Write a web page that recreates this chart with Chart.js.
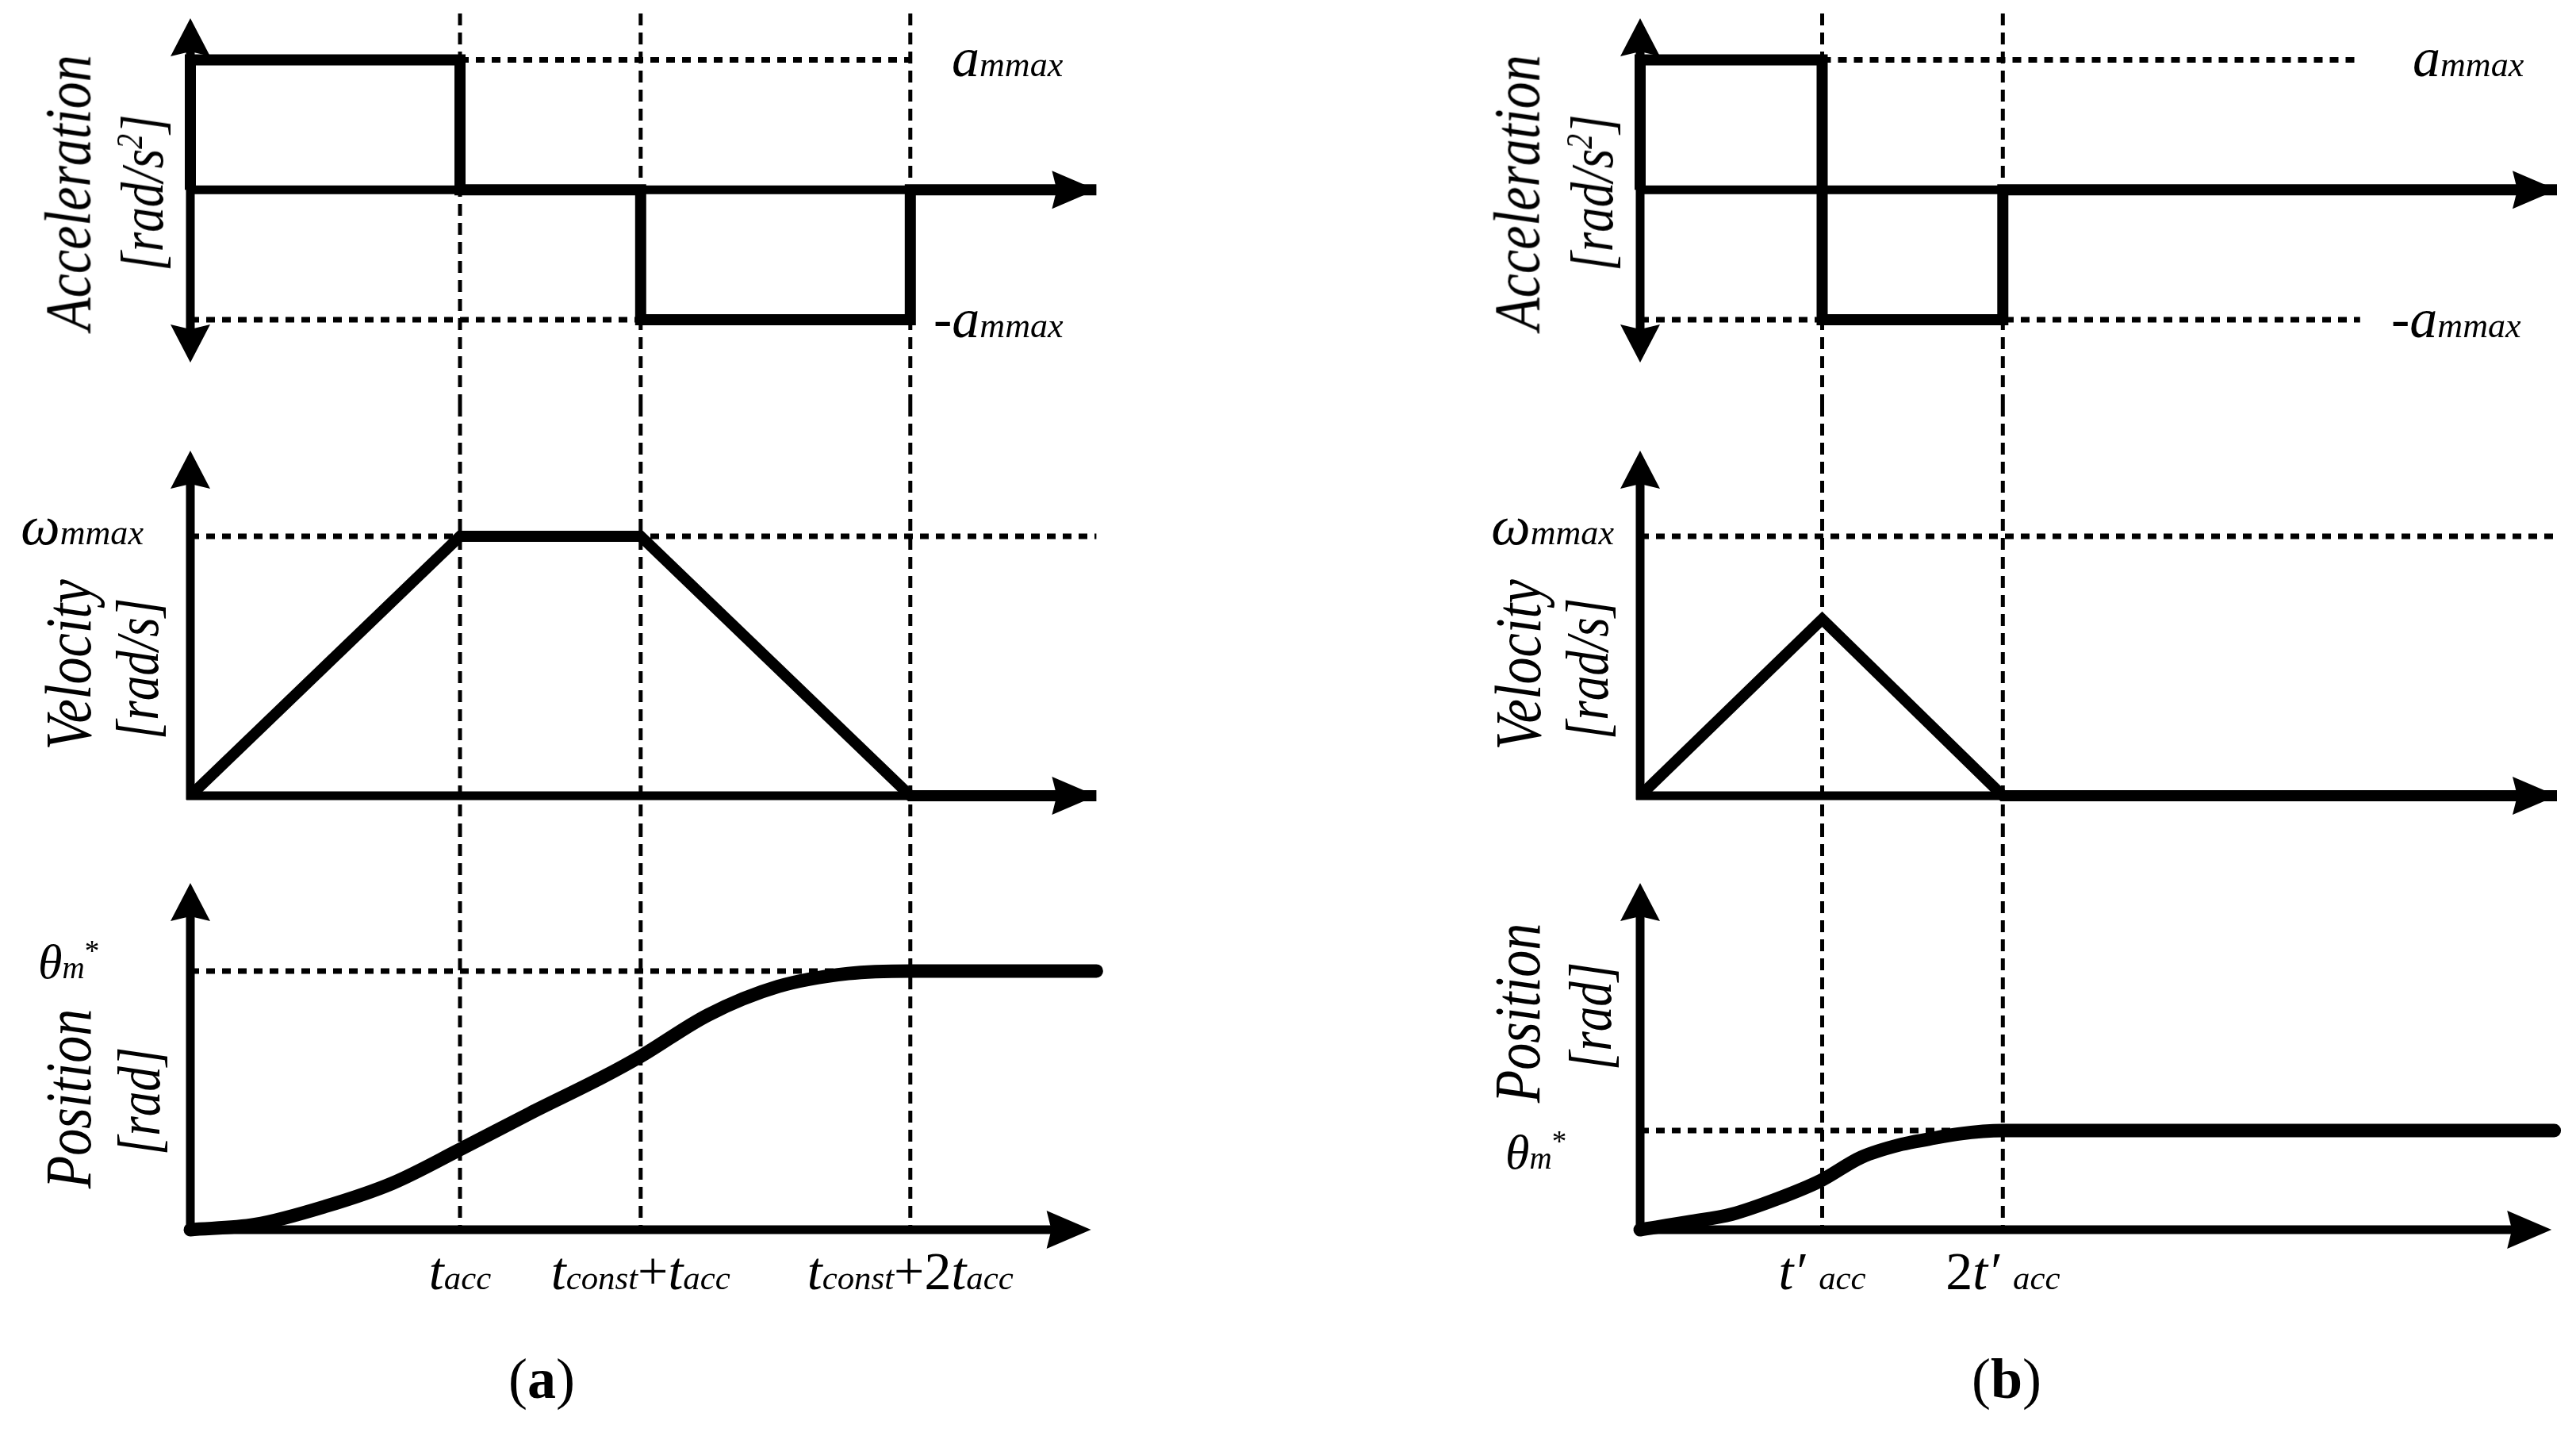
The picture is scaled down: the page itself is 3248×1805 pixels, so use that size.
<!DOCTYPE html>
<html>
<head>
<meta charset="utf-8">
<script src="https://cdn.jsdelivr.net/npm/chart.js@4.4.0/dist/chart.umd.min.js"></script>
<style>
  html, body { margin: 0; padding: 0; background: #fff; }
  #page { position: relative; width: 3248px; height: 1805px; overflow: hidden; }
  canvas { position: absolute; }
  .lbl { position: absolute; font-family: "Liberation Serif", "DejaVu Serif", serif; color: #000; white-space: nowrap; line-height: 1; }
  .lbl i, .lbl .s { font-style: italic; }
  .s { font-size: 0.63em; }
  .rot { transform: translate(-50%, -50%) rotate(-90deg) scale(1, 1.2); font-style: italic; }
  .ctr { transform: translateX(-50%); }
  .rgt { transform: translateX(-100%); }
</style>
</head>
<body>
<div id="page">
  <canvas id="accA" width="1624" height="510" style="left:0;top:0"></canvas>
  <canvas id="velA" width="1624" height="530" style="left:0;top:510px"></canvas>
  <canvas id="posA" width="1624" height="765" style="left:0;top:1040px"></canvas>
  <canvas id="accB" width="1624" height="510" style="left:1624px;top:0"></canvas>
  <canvas id="velB" width="1624" height="530" style="left:1624px;top:510px"></canvas>
  <canvas id="posB" width="1624" height="765" style="left:1624px;top:1040px"></canvas>

  <!-- axis titles -->
  <div class="lbl rot" style="left:86px;top:243px;font-size:68px">Acceleration</div>
  <div class="lbl rot" style="left:180px;top:243px;font-size:63px">[rad/s<sup style="font-size:0.6em">2</sup>]</div>
  <div class="lbl rot" style="left:86px;top:838px;font-size:68px">Velocity</div>
  <div class="lbl rot" style="left:174px;top:843px;font-size:63px">[rad/s]</div>
  <div class="lbl rot" style="left:86px;top:1385px;font-size:68px">Position</div>
  <div class="lbl rot" style="left:176px;top:1388px;font-size:63px">[rad]</div>

  <div class="lbl rot" style="left:1913px;top:243px;font-size:68px">Acceleration</div>
  <div class="lbl rot" style="left:2008px;top:243px;font-size:63px">[rad/s<sup style="font-size:0.6em">2</sup>]</div>
  <div class="lbl rot" style="left:1914px;top:838px;font-size:68px">Velocity</div>
  <div class="lbl rot" style="left:2002px;top:843px;font-size:63px">[rad/s]</div>
  <div class="lbl rot" style="left:1913px;top:1277px;font-size:68px">Position</div>
  <div class="lbl rot" style="left:2006px;top:1281px;font-size:63px">[rad]</div>

  <!-- level labels -->
  <div class="lbl" style="left:1200px;top:38px;font-size:70px"><i>a</i><span class="s">mmax</span></div>
  <div class="lbl" style="left:1177px;top:367px;font-size:70px">-<i>a</i><span class="s">mmax</span></div>
  <div class="lbl" style="left:3042px;top:38px;font-size:70px"><i>a</i><span class="s">mmax</span></div>
  <div class="lbl" style="left:3015px;top:367px;font-size:70px">-<i>a</i><span class="s">mmax</span></div>
  <div class="lbl rgt" style="left:181px;top:628px;font-size:70px"><i>ω</i><span class="s">mmax</span></div>
  <div class="lbl rgt" style="left:2035px;top:628px;font-size:70px"><i>ω</i><span class="s">mmax</span></div>
  <div class="lbl" style="left:48px;top:1180px;font-size:62px"><i>θ</i><span class="s">m</span><sup style="font-size:0.6em">*</sup></div>
  <div class="lbl" style="left:1898px;top:1420px;font-size:62px"><i>θ</i><span class="s">m</span><sup style="font-size:0.6em">*</sup></div>

  <div class="lbl" style="left:683px;top:1738px;font-size:72px;transform:translate(-50%,-50%)">(<b>a</b>)</div>
  <div class="lbl" style="left:2530px;top:1738px;font-size:72px;transform:translate(-50%,-50%)">(<b>b</b>)</div>
</div>

<script>
// time in units of t_acc (left) / same scale (right)
const tickTimesA = [1, 1.67, 2.67];
const tickLabelsA = ['<i>t</i><span class="s">acc</span>',
                     '<i>t</i><span class="s">const</span>+<i>t</i><span class="s">acc</span>',
                     '<i>t</i><span class="s">const</span>+2<i>t</i><span class="s">acc</span>'];
const tickTimesB = [0.675, 1.345];
const tickLabelsB = ['<i>t′</i> <span class="s">acc</span>', '2<i>t′</i> <span class="s">acc</span>'];

// (a) trapezoidal profile
const accTimeA = [0, 0, 1, 1, 1.67, 1.67, 2.67, 2.67, 3.36];
const accValA  = [0, 1, 1, 0, 0, -1, -1, 0, 0];
const velTimeA = [0, 1, 1.67, 2.67, 3.36];
const velValA  = [0, 1, 1, 0, 0];
const posTimeA = [0, 0.24, 0.5, 0.75, 1, 1.26, 1.53, 1.67, 1.92, 2.18, 2.44, 2.67, 3.36];
const posValA  = [0, 0.02, 0.09, 0.18, 0.31, 0.45, 0.59, 0.67, 0.83, 0.94, 0.99, 1, 1];

// (b) triangular profile
const accTimeB = [0, 0, 0.675, 0.675, 1.345, 1.345, 3.40];
const accValB  = [0, 1, 1, -1, -1, 0, 0];
const velTimeB = [0, 0.675, 1.345, 3.40];
const velValB  = [0, 0.68, 0, 0];
const posTimeB = [0, 0.18, 0.34, 0.51, 0.67, 0.82, 0.97, 1.07, 1.18, 1.345, 3.39];
const posValB  = [0, 0.03, 0.06, 0.12, 0.19, 0.28, 0.33, 0.35, 0.37, 0.383, 0.383];

// dotted reference levels: [from, to, level]
const accLevelsA = [[1, 2.67, 1], [0, 1.67, -1]];
const velLevelsA = [[0, 3.36, 1]];
const posLevelsA = [[0, 2.67, 1]];
const accLevelsB = [[0.675, 2.67, 1], [0, 2.67, -1]];
const velLevelsB = [[0, 3.39, 1]];
const posLevelsB = [[0, 1.345, 0.383]];

const pts = (xs, ys) => xs.map((x, i) => ({x: x, y: ys[i]}));

function head(ctx, tx, ty, dx, dy, len, half) {
  const px = -dy, py = dx;
  const bx = tx - dx * len, by = ty - dy * len;
  ctx.beginPath();
  ctx.moveTo(tx, ty);
  ctx.lineTo(bx + px * half, by + py * half);
  ctx.lineTo(tx - dx * (len - 6), ty - dy * (len - 6));
  ctx.lineTo(bx - px * half, by - py * half);
  ctx.closePath();
  ctx.fill();
}

function axesPlugin(xEnd, twoWay) {
  return {
    id: 'axesArrows',
    beforeDatasetsDraw(chart) {
      const {ctx, scales: {x, y}} = chart;
      const x0 = x.getPixelForValue(0), y0 = y.getPixelForValue(0);
      const xe = x.getPixelForValue(xEnd);
      const yt = y.getPixelForValue(y.max);
      const yb = twoWay ? y.getPixelForValue(y.min) : y0 + 5;
      ctx.save();
      ctx.strokeStyle = '#000';
      ctx.lineWidth = 11;
      ctx.beginPath();
      ctx.moveTo(x0, twoWay ? yb - 30 : yb);
      ctx.lineTo(x0, yt + 30);
      ctx.moveTo(x0 - 5, y0);
      ctx.lineTo(xe - 30, y0);
      ctx.stroke();
      ctx.restore();
    },
    afterDatasetsDraw(chart) {
      const {ctx, scales: {x, y}} = chart;
      const x0 = x.getPixelForValue(0), y0 = y.getPixelForValue(0);
      ctx.save();
      ctx.fillStyle = '#000';
      head(ctx, x0, y.getPixelForValue(y.max), 0, -1, 48, 25);
      if (twoWay) head(ctx, x0, y.getPixelForValue(y.min), 0, 1, 48, 25);
      head(ctx, x.getPixelForValue(xEnd), y0, 1, 0, 56, 24);
      ctx.restore();
    }
  };
}

function guidesPlugin(times, top, toZero) {
  return {
    id: 'guides',
    beforeDatasetsDraw(chart) {
      const {ctx, scales: {x, y}} = chart;
      const bottom = toZero ? y.getPixelForValue(0) : chart.height;
      ctx.save();
      ctx.strokeStyle = '#000';
      ctx.lineWidth = 5;
      ctx.setLineDash([15, 9]);
      times.forEach(t => {
        const px = x.getPixelForValue(t);
        ctx.beginPath();
        ctx.moveTo(px, top);
        ctx.lineTo(px, bottom);
        ctx.stroke();
      });
      ctx.restore();
    }
  };
}

function panel(id, o) {
  const datasets = [{
    data: pts(o.t, o.v),
    borderColor: '#000',
    borderWidth: o.width,
    pointRadius: 0,
    clip: false,
    borderCapStyle: o.smooth ? 'round' : 'butt',
    borderJoinStyle: o.smooth ? 'round' : 'miter',
    cubicInterpolationMode: o.smooth ? 'monotone' : 'default',
    tension: 0
  }];
  o.levels.forEach(l => datasets.push({
    data: [{x: l[0], y: l[2]}, {x: l[1], y: l[2]}],
    borderColor: '#000',
    borderWidth: 7,
    borderDash: [11, 9],
    pointRadius: 0,
    clip: false
  }));
  return new Chart(document.getElementById(id), {
    type: 'line',
    data: {datasets: datasets},
    options: {
      responsive: false,
      animation: false,
      events: [],
      layout: {padding: o.pad},
      scales: {
        x: {type: 'linear', display: false, min: 0, max: 3.4},
        y: {type: 'linear', display: false, min: o.yMin, max: o.yMax}
      },
      plugins: {legend: {display: false}, tooltip: {enabled: false}}
    },
    plugins: [guidesPlugin(o.guides, o.gTop, o.gZero), axesPlugin(o.xEnd, o.twoWay)]
  });
}

const padA = {left: 240, right: 228};
const padB = {left: 444, right: 24};

panel('accA', {t: accTimeA, v: accValA, levels: accLevelsA, width: 14,
  pad: Object.assign({top: 23, bottom: 53}, padA), yMin: -1.33, yMax: 1.32,
  guides: tickTimesA, gTop: 17, gZero: false, xEnd: 3.36, twoWay: true});
panel('velA', {t: velTimeA, v: velValA, levels: velLevelsA, width: 14,
  pad: Object.assign({top: 58, bottom: 37}, padA), yMin: 0, yMax: 1.33,
  guides: tickTimesA, gTop: 0, gZero: false, xEnd: 3.36, twoWay: false});
const posA = panel('posA', {t: posTimeA, v: posValA, levels: posLevelsA, width: 17, smooth: true,
  pad: Object.assign({top: 73, bottom: 255}, padA), yMin: 0, yMax: 1.34,
  guides: tickTimesA, gTop: 0, gZero: true, xEnd: 3.34, twoWay: false});

panel('accB', {t: accTimeB, v: accValB, levels: accLevelsB, width: 14,
  pad: Object.assign({top: 23, bottom: 53}, padB), yMin: -1.33, yMax: 1.32,
  guides: tickTimesB, gTop: 17, gZero: false, xEnd: 3.40, twoWay: true});
panel('velB', {t: velTimeB, v: velValB, levels: velLevelsB, width: 14,
  pad: Object.assign({top: 58, bottom: 37}, padB), yMin: 0, yMax: 1.33,
  guides: tickTimesB, gTop: 0, gZero: false, xEnd: 3.40, twoWay: false});
const posB = panel('posB', {t: posTimeB, v: posValB, levels: posLevelsB, width: 17, smooth: true,
  pad: Object.assign({top: 73, bottom: 255}, padB), yMin: 0, yMax: 1.34,
  guides: tickTimesB, gTop: 0, gZero: true, xEnd: 3.38, twoWay: false});

// time tick labels, placed with the x scale of the position charts
function tickLabels(chart, left, times, labels) {
  const page = document.getElementById('page');
  times.forEach((t, i) => {
    const d = document.createElement('div');
    d.className = 'lbl ctr';
    d.style.left = (left + chart.scales.x.getPixelForValue(t)) + 'px';
    d.style.top = '1568px';
    d.style.fontSize = '68px';
    d.innerHTML = labels[i];
    page.appendChild(d);
  });
}
tickLabels(posA, 0, tickTimesA, tickLabelsA);
tickLabels(posB, 1624, tickTimesB, tickLabelsB);
</script>
</body>
</html>
